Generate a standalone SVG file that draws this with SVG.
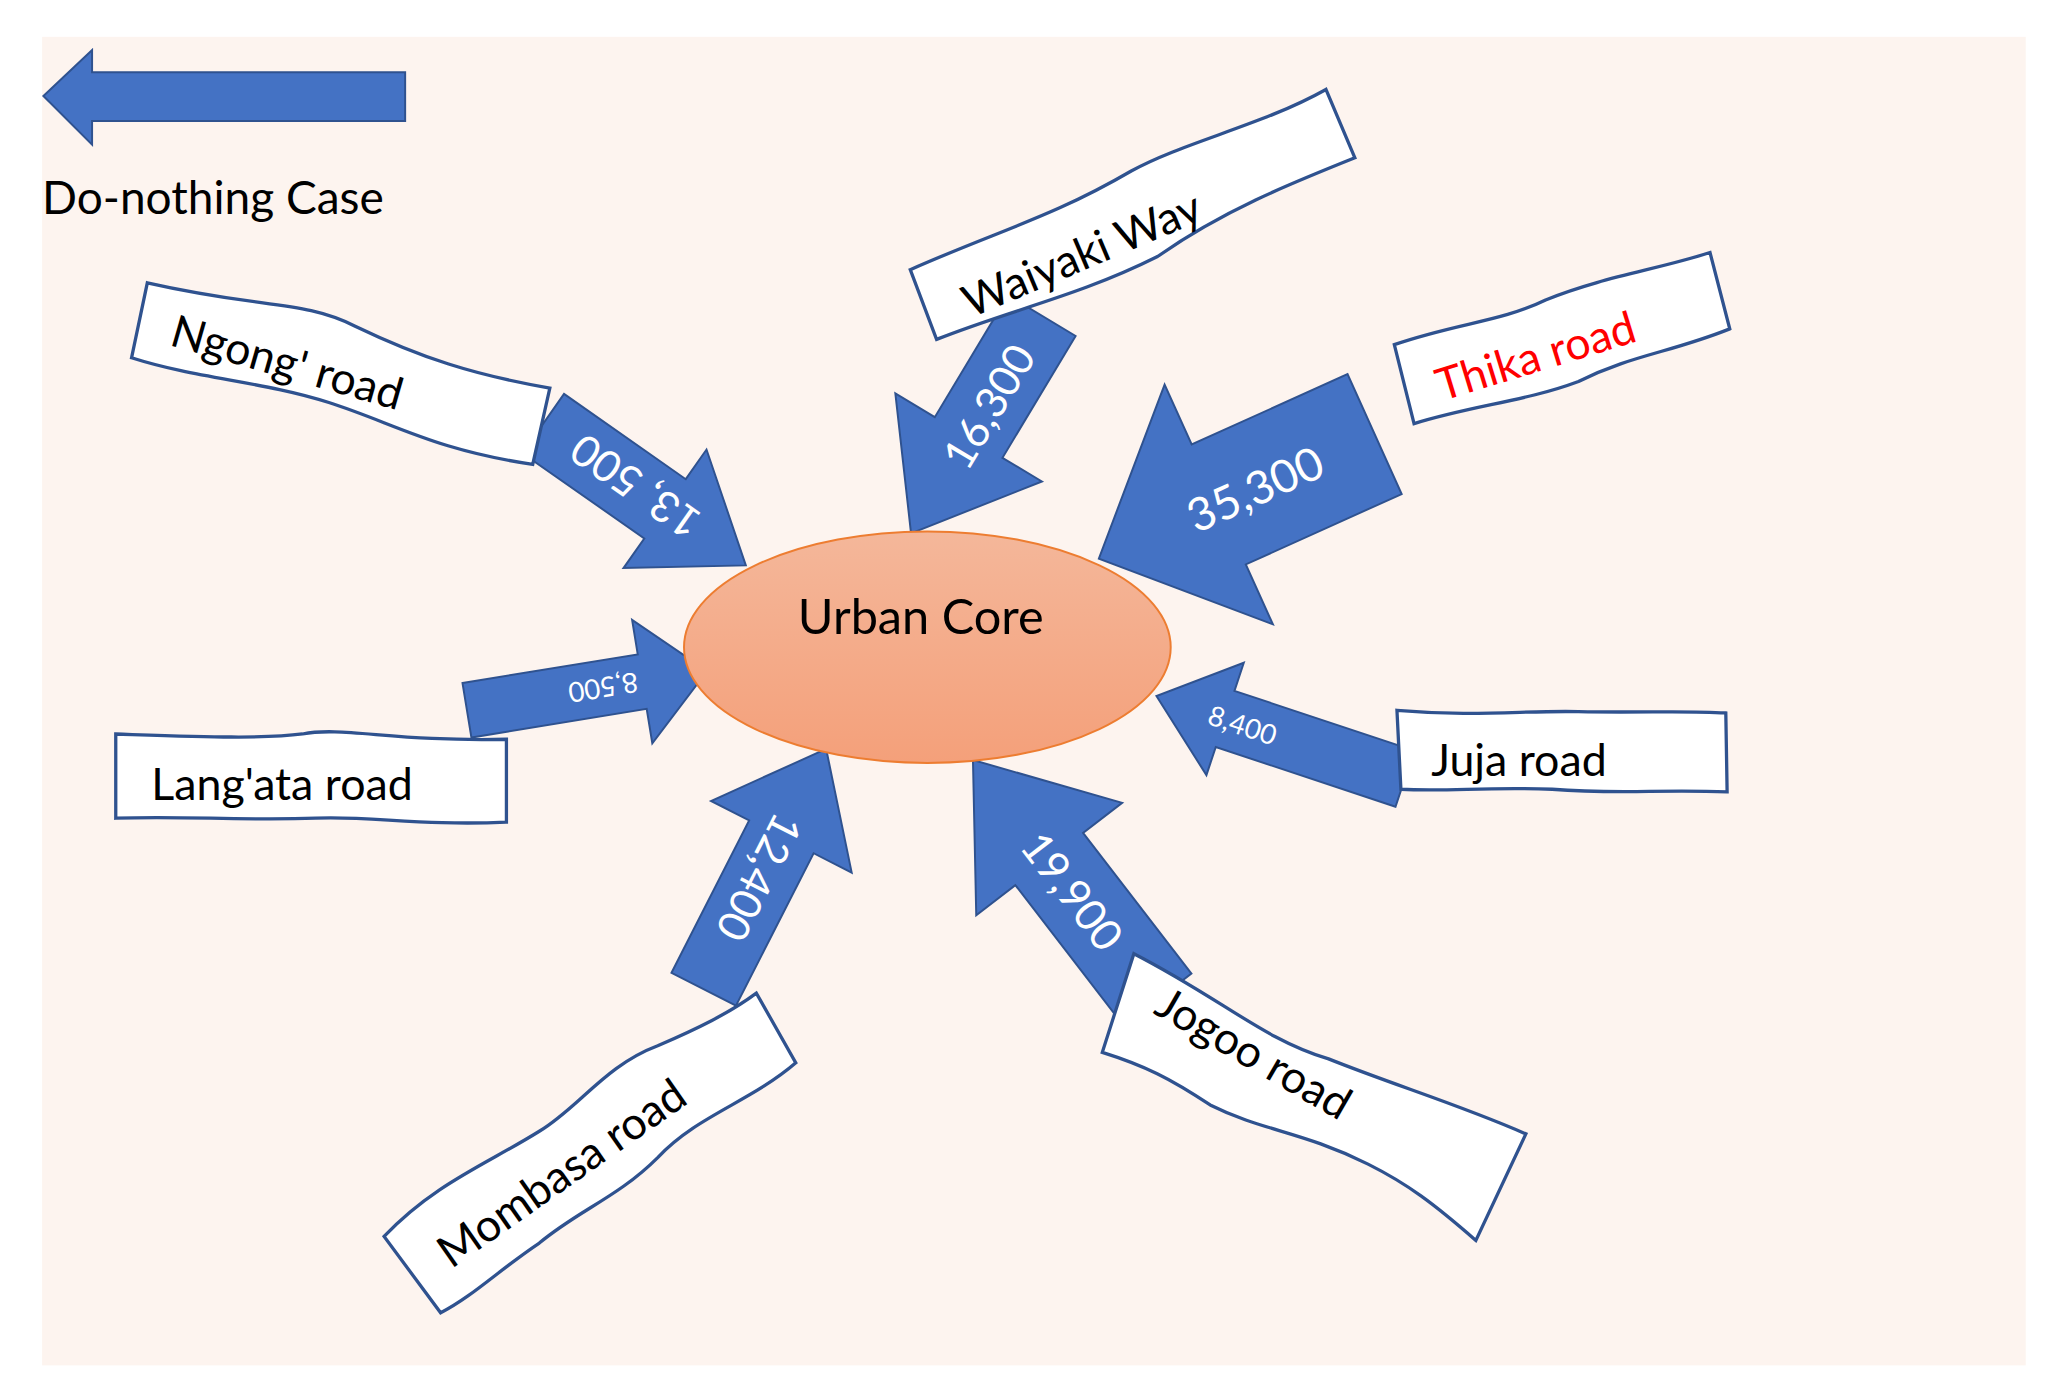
<svg xmlns="http://www.w3.org/2000/svg" width="2052" height="1398" viewBox="0 0 2052 1398">
<defs>
<style>
.arr{fill:#4472c4;stroke:#2f528f;stroke-width:1.5}
.box{fill:#ffffff;stroke:#2f528f;stroke-width:2.5}
.lbl{font-family:Lato,"Open Sans",sans-serif;font-size:34px;fill:#000}
.num{font-family:Lato,"Open Sans",sans-serif;fill:#ffffff;text-anchor:middle;dominant-baseline:central}
</style>
<linearGradient id="eg" x1="0" y1="0" x2="0" y2="1"><stop offset="0" stop-color="#f4b79a"/><stop offset="1" stop-color="#f4a07a"/></linearGradient>
</defs>
<rect width="2052" height="1398" fill="#ffffff"/>
<g transform="scale(1.3154)">
<rect x="32" y="28" width="1508" height="1010" fill="#fdf4ef"/>
<g id="legend">
<polygon class="arr" points="33,73 70,38 70,55 308,55 308,92 70,92 70,110"/>
<text x="32" y="163" class="lbl" style="font-size:35px">Do-nothing Case</text>
</g>
<g id="connectors">
<g transform="translate(413,322) rotate(35)"><polygon class="arr" points="0,-27.5 113,-27.5 113,-55 188,0 113,55 113,27.5 0,27.5"/><text class="num" x="85" y="0" font-size="33" transform="rotate(180 85 0)">13, 500</text></g>
<g transform="translate(792,240) rotate(121)"><polygon class="arr" points="0,-30 108,-30 108,-65 193,0 108,65 108,30 0,30"/><text class="num" x="80" y="0" font-size="33" transform="rotate(180 80 0)">16,300</text></g>
<g transform="translate(1045,330) rotate(155.7)"><polygon class="arr" points="0,-50 130,-50 130,-100 230,0 130,100 130,50 0,50"/><text class="num" x="100" y="0" font-size="35" transform="rotate(180 100 0)">35,300</text></g>
<g transform="translate(355,540) rotate(-9.3)"><polygon class="arr" points="0,-21 135,-21 135,-47.5 185,0 135,47.5 135,21 0,21"/><text class="num" x="105" y="0" font-size="21" transform="rotate(180 105 0)">8,500</text></g>
<g transform="translate(1068,592) rotate(198.4)"><polygon class="arr" points="0,-22.5 144,-22.5 144,-45 199,0 144,45 144,22.5 0,22.5"/><text class="num" x="130" y="0" font-size="21" transform="rotate(180 130 0)">8,400</text></g>
<g transform="translate(535,752) rotate(-63)"><polygon class="arr" points="0,-27.5 130,-27.5 130,-60 205,0 130,60 130,27.5 0,27.5"/><text class="num" x="95" y="0" font-size="33" transform="rotate(180 95 0)">12,400</text></g>
<g transform="translate(880,760) rotate(232.4)"><polygon class="arr" points="0,-32.5 135,-32.5 135,-70 230,0 135,70 135,32.5 0,32.5"/><text class="num" x="105" y="0" font-size="33" transform="rotate(180 105 0)">19,900</text></g>
</g>
<g id="urban-core">
<ellipse cx="705" cy="492" rx="185" ry="88" fill="url(#eg)" stroke="#ed7d31" stroke-width="1.5"/>
<text x="700" y="482" class="lbl" style="font-size:37px" text-anchor="middle">Urban Core</text>
</g>
<g id="ngong">
<path class="box" d="M112,215 C200,235 230,228 270,248 C320,272 360,285 418,295 L405,353 C330,342 300,322 250,306 C200,290 150,288 100,272 Z"/>
<text class="lbl" transform="translate(128,262) rotate(16)">Ngong' road</text>
</g>
<g id="waiyaki">
<path class="box" d="M692,205 C760,175 800,165 860,130 C900,108 960,95 1008,68 L1030,120 C980,140 930,160 880,195 C820,225 770,235 712,258 Z"/>
<text class="lbl" transform="translate(738,242) rotate(-23)">Waiyaki Way</text>
</g>
<g id="thika">
<path class="box" d="M1060,262 C1110,245 1140,245 1175,228 C1220,210 1260,205 1300,192 L1315,250 C1270,268 1240,270 1200,290 C1160,305 1120,308 1075,322 Z"/>
<text class="lbl" style="fill:#ff0000" transform="translate(1096,305) rotate(-17)">Thika road</text>
</g>
<g id="langata">
<path class="box" d="M88,558 C150,560 200,562 230,558 C260,552 300,564 385,562 L385,625 C320,628 280,620 240,622 C180,624 140,620 88,622 Z"/>
<text class="lbl" x="115" y="608">Lang'ata road</text>
</g>
<g id="juja">
<path class="box" d="M1062,540 C1120,545 1160,540 1200,541 C1250,542 1280,540 1312,542 L1313,602 C1260,600 1230,604 1180,600 C1130,598 1100,602 1065,600 Z"/>
<text class="lbl" x="1088" y="590">Juja road</text>
</g>
<g id="mombasa">
<path class="box" d="M292,940 C330,900 370,885 410,860 C440,842 460,810 500,795 C530,782 555,770 575,755 L605,808 C570,838 530,848 500,880 C470,910 440,920 410,945 C380,965 360,985 335,998 Z"/>
<text class="lbl" transform="translate(343,965) rotate(-35)">Mombasa road</text>
</g>
<g id="jogoo">
<path class="box" d="M862,725 C930,760 960,790 1010,805 C1060,825 1110,840 1160,862 L1122,943 C1090,915 1070,900 1040,885 C990,860 960,860 920,840 C890,820 870,810 838,800 Z"/>
<text class="lbl" transform="translate(876,770) rotate(30)">Jogoo road</text>
</g>
</g>
</svg>
